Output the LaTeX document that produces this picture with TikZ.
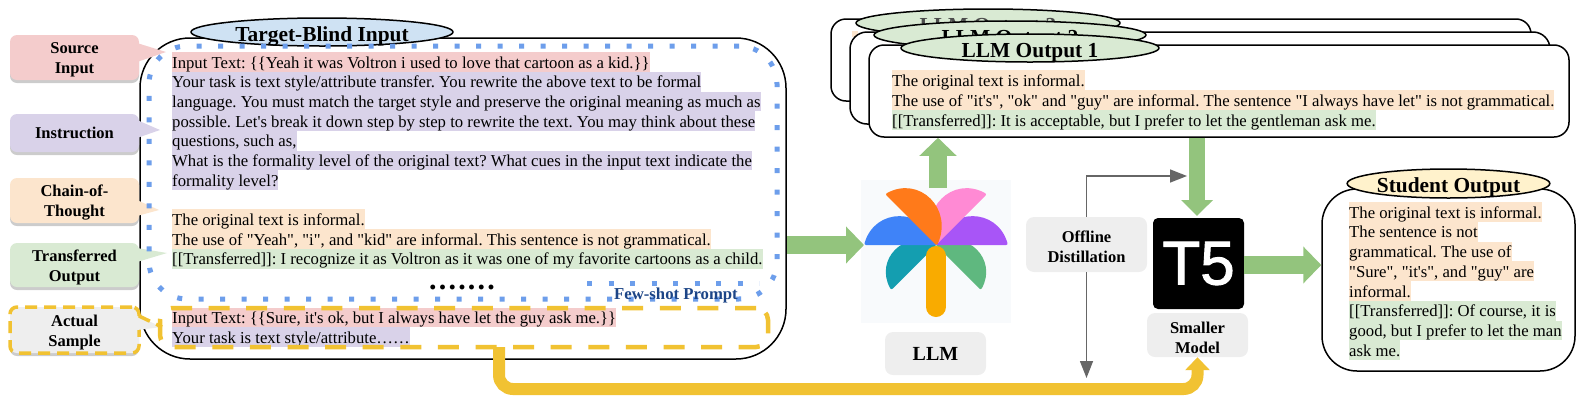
\documentclass[tikz,border=0pt]{standalone}
\usepackage{fontspec}
\setmainfont{Liberation Serif}[Ligatures=TeXOff]
\newfontfamily\sansfam{Liberation Sans}[FakeBold=1.5]
\usetikzlibrary{arrows.meta}
\usetikzlibrary{shapes.geometric}
\usetikzlibrary{shadows}
\definecolor{srccol}{HTML}{F4CCCC}
\definecolor{inscol}{HTML}{D9D2E9}
\definecolor{cotcol}{HTML}{FCE5CD}
\definecolor{outcol}{HTML}{D9EAD3}
\definecolor{paper}{HTML}{EEEEEE}
\definecolor{bluecol}{HTML}{CFE2F3}
\definecolor{stucol}{HTML}{FFF2CC}
\definecolor{fatgreen}{HTML}{93C47D}
\definecolor{fatyellow}{HTML}{F1C232}
\definecolor{dotblue}{HTML}{6D9EEB}
\definecolor{fewcol}{HTML}{1C4587}
\definecolor{logobgcol}{HTML}{F8FAFC}
\definecolor{pteal}{HTML}{149EB0}
\definecolor{pgreen}{HTML}{5FB87F}
\definecolor{ppurple}{HTML}{A855F7}
\definecolor{ppink}{HTML}{FF8AD4}
\definecolor{pblue}{HTML}{3F83F8}
\definecolor{porange}{HTML}{FF7A1A}
\definecolor{pyellow}{HTML}{F9AB00}
\def\bodyfont{\fontsize{16.7}{19.7}\selectfont\frenchspacing}
\def\notefont{\fontsize{16.5}{20}\selectfont\bfseries}
\def\headfont{\fontsize{21.4}{24}\selectfont\bfseries}
\def\nt{\rule{0pt}{16.5pt}}
\def\petalpath{(-70,-1.5) .. controls (-60,-36) and (-14,-36) .. (-1,-1.5) -- cycle}
\tikzset{
	ln/.style={anchor=north west,inner sep=0pt,text height=15.9pt,text depth=3.8pt,font=\bodyfont},
	callnote/.style={rounded corners=7pt,minimum width=129pt,inner sep=0pt,align=center,font=\notefont,
		drop shadow={shadow xshift=0pt,shadow yshift=-3pt,opacity=.2,fill=black}},
	graynote/.style={fill=paper,rounded corners=8pt,inner sep=0pt,align=center,font=\notefont},
	panel/.style={draw=black,fill=white,line width=1.5pt,inner sep=0pt},
	headshape/.style={draw=black,line width=1.5pt,ellipse,inner xsep=0pt,inner ysep=-7pt,text height=22pt,text depth=4pt,font=\headfont},
	promptdots/.style={draw=dotblue,line width=5pt,dash pattern=on 5pt off 16.5pt},
	fatarrow/.style={draw=fatgreen,line width=18pt,-{Triangle[width=36pt,length=18pt]}},
	thinarrow/.style={draw=black!60,line width=1.5pt,-{Triangle[width=13pt,length=17pt]}},
}
\begin{document}
\begin{tikzpicture}[x=1pt,y=-1pt]
	\useasboundingbox (0,0) rectangle (1581,405);
	\node[panel,rounded corners=50pt,minimum width=646pt,minimum height=321pt] (mainbox) at (463,198.5) {};
	\node[headshape,fill=bluecol,minimum width=262pt,minimum height=28pt] (mainhead) at (322,32) {Target-Blind Input};
	\node[ln,fill=srccol] (a1) at (172,52) {Input Text: \{\{Yeah it was Voltron i used to love that cartoon as a kid.\}\}};
	\node[ln,fill=inscol] (a2) at (172,71.7) {Your task is text style/attribute transfer. You rewrite the above text to be formal};
	\node[ln,fill=inscol] (a3) at (172,91.4) {language. You must match the target style and preserve the original meaning as much as};
	\node[ln,fill=inscol] (a4) at (172,111) {possible. Let's break it down step by step to rewrite the text. You may think about these};
	\node[ln,fill=inscol] (a5) at (172,130.8) {questions, such as,};
	\node[ln,fill=inscol] (a6) at (172,150.4) {What is the formality level of the original text? What cues in the input text indicate the};
	\node[ln,fill=inscol] (a7) at (172,170) {formality level?};
	\node[ln,fill=cotcol] (a8) at (172,209.2) {The original text is informal.};
	\node[ln,fill=cotcol] (a9) at (172,228.9) {The use of "Yeah", "i", and "kid" are informal. This sentence is not grammatical.};
	\node[ln,fill=outcol] (a10) at (172,248.6) {[[Transferred]]: I recognize it as Voltron as it was one of my favorite cartoons as a child.};
	\node[ln,fill=srccol] (b1) at (172,307.4) {Input Text: \{\{Sure, it's ok, but I always have let the guy ask me.\}\}};
	\node[ln,fill=inscol] (b2) at (172,327.1) {Your task is text style/attribute……};
	\node[font=\fontsize{30}{30}\selectfont\bfseries,inner sep=0pt] (more) at (462,287) {.\kern2.2pt.\kern2.2pt.\kern2.2pt.\kern2.2pt.\kern2.2pt.\kern2.2pt.};
	\node[callnote,fill=srccol,minimum height=45pt] (srcnote) at (74.5,57.5) {\nt Source\\Input};
	\fill[srccol] (137,43)--(166,52)--(137,62)--cycle;
	\node[callnote,fill=inscol,minimum height=38pt] (insnote) at (74.5,133) {Instruction};
	\fill[inscol] (137,120)--(160,130)--(137,138)--cycle;
	\node[callnote,fill=cotcol,minimum height=45pt] (cotnote) at (74.5,200.5) {\nt Chain-of-\\Thought};
	\fill[cotcol] (137,200)--(159,210)--(137,216)--cycle;
	\node[callnote,fill=outcol,minimum height=44pt] (outnote) at (74.5,265) {\nt Transferred\\Output};
	\fill[outcol] (137,248)--(167,253)--(137,262)--cycle;
	\node[callnote,fill=paper,minimum height=46pt,draw=fatyellow,line width=3.5pt,dash pattern=on 12pt off 7pt] (samplenote) at (74.5,330) {\nt Actual\\Sample};
	\fill[paper] (137,316)--(162,327)--(137,330)--cycle;
	\draw[fatyellow,line width=3.5pt,dash pattern=on 12pt off 7pt] (139,316)--(162,327);
	\node[promptdots,rounded corners=38pt,minimum width=628pt,minimum height=253pt,inner sep=0pt] (promptbox) at (463,172.5) {};
	\draw[promptdots] (587,283)--(759,283);
	\node[font=\fontsize{16.7}{20}\selectfont\bfseries,text=fewcol,inner sep=0pt] (fewshot) at (676,295) {Few-shot Prompt};
	\node[draw=fatyellow,line width=4.5pt,dash pattern=on 21pt off 16.6pt,rounded corners=12pt,minimum width=608pt,minimum height=39pt,inner sep=0pt] (samplebox) at (464,327.5) {};
	\node[panel,rounded corners=15pt,minimum width=700pt,minimum height=82pt] (out3) at (1181,60) {};
	\node[headshape,fill=outcol,text=black!70,minimum width=264pt,minimum height=28pt] (head3) at (988,23) {LLM Output 3};
	\fill[cotcol] (852,31) rectangle (858,37);
	\node[panel,rounded corners=17pt,minimum width=700pt,minimum height=92pt] (out2) at (1200,78) {};
	\node[headshape,fill=outcol,minimum width=272pt,minimum height=28pt] (head2) at (1010,35) {LLM Output 2};
	\node[panel,rounded corners=15pt,minimum width=700pt,minimum height=92pt] (out1) at (1219,91) {};
	\node[headshape,fill=outcol,minimum width=258pt,minimum height=28pt] (head1) at (1030,48) {LLM Output 1};
	\node[ln,fill=cotcol] (c1) at (892,70) {The original text is informal.};
	\node[ln,fill=cotcol] (c2) at (892,90) {The use of "it's", "ok" and "guy" are informal. The sentence "I always have let" is not grammatical.};
	\node[ln,fill=outcol] (c3) at (892,110) {[[Transferred]]: It is acceptable, but I prefer to let the gentleman ask me.};
	\node[fill=logobgcol,minimum width=150pt,minimum height=143pt,inner sep=0pt] (logobg) at (936,251.5) {};
	\coordinate (llmctr) at (936,245);
	\foreach \mir/\ang/\siz/\col in {1/45/.88/pteal,-1/45/.88/pgreen,-1/0/1/ppurple,-1/-45/1/ppink,1/0/1/pblue,1/-45/1/porange}{
		\begin{scope}[shift={(llmctr)},xscale=\mir,rotate=\ang,scale=\siz]
			\filldraw[draw=\col,fill=\col,line width=3pt,line join=round] \petalpath;
		\end{scope}
	}
	\draw[pyellow,line width=20pt,line cap=round] (936,256)--(936,307);
	\node[graynote,minimum width=101pt,minimum height=43pt,font=\fontsize{20}{22}\selectfont\bfseries] (llmnote) at (935.5,353.5) {LLM};
	\node[graynote,minimum width=121pt,minimum height=55pt] (offnote) at (1086.5,244.5) {\nt Offline\\Distillation};
	\node[fill=black,rounded corners=5pt,minimum width=91pt,minimum height=91pt,inner sep=0pt,text=white,font=\fontsize{62}{62}\selectfont\sansfam] (t5) at (1198.5,263.5) {T5};
	\node[graynote,minimum width=101pt,minimum height=44pt] (smallnote) at (1197.5,335) {\nt Smaller\\Model};
	\node[panel,rounded corners=35pt,minimum width=253pt,minimum height=182pt] (stubox) at (1448.5,280) {};
	\node[headshape,fill=stucol,minimum width=199pt,minimum height=29pt] (stuhead) at (1448.5,183.5) {Student Output};
	\node[ln,fill=cotcol] (d1) at (1349,202) {The original text is informal.};
	\node[ln,fill=cotcol] (d2) at (1349,221.75) {The sentence is not};
	\node[ln,fill=cotcol] (d3) at (1349,241.5) {grammatical. The use of};
	\node[ln,fill=cotcol] (d4) at (1349,261.25) {"Sure", "it's", and "guy" are};
	\node[ln,fill=cotcol] (d5) at (1349,281) {informal.};
	\node[ln,fill=outcol] (d6) at (1349,300.75) {[[Transferred]]: Of course, it is};
	\node[ln,fill=outcol] (d7) at (1349,320.5) {good, but I prefer to let the man};
	\node[ln,fill=outcol] (d8) at (1349,340.25) {ask me.};
	\coordinate (llmtip) at (864,245);
	\coordinate (upfoot) at (938,188);
	\coordinate (downtip) at (1197,216);
	\coordinate (t5out) at (1244,265);
	\coordinate (t5in) at (1187,176);
	\coordinate (offfoot) at (1086.5,378);
	\coordinate (samplefoot) at (499,347);
	\draw[fatarrow] (mainbox.east |- llmtip)--(llmtip);
	\draw[fatarrow] (upfoot)--(upfoot |- out1.south);
	\draw[fatarrow,line width=16pt,-{Triangle[width=31pt,length=16pt]}] (downtip |- out1.south)--(downtip);
	\draw[fatarrow] (t5out)--(t5out -| stubox.west);
	\draw[thinarrow] (offnote.north) |- (t5in);
	\draw[thinarrow] (offnote.south)--(offfoot);
	\draw[fatyellow,line width=12pt,rounded corners=14pt,-{Triangle[width=24pt,length=13pt]}] (samplefoot)--(samplefoot |- 0,389)--(smallnote.south |- 0,389)--(smallnote.south);
\end{tikzpicture}
\end{document}
